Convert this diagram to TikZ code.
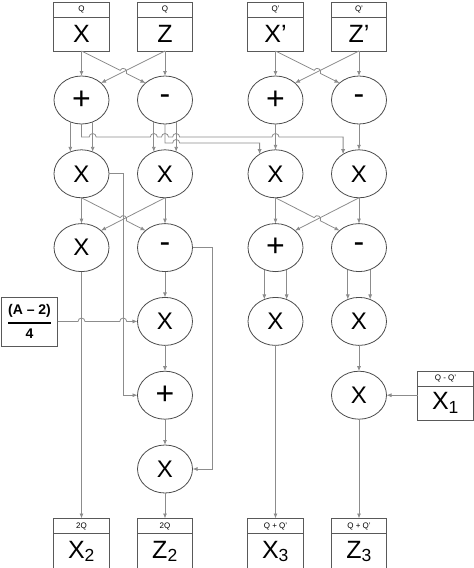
\documentclass[tikz,border=0pt]{standalone}
\usepackage{fontspec}
\setmainfont{Liberation Sans}
\usetikzlibrary{shapes.geometric,positioning,calc,arrows.meta}

\newcommand{\hop}[1]{-- ($(#1)+(-3.5pt,0)$) arc[start angle=180, end angle=0, radius=3.5pt]}
\newcommand{\dhop}[3]{-- ($(#1)!3.5pt!(#2)$) to[bend left=90, looseness=1.7] ($(#1)!3.5pt!(#3)$)}

\tikzset{
  tag/.style={draw=black!65, line width=0.8pt, minimum width=55.5pt, minimum height=15pt, inner sep=0pt, outer sep=0pt, font=\fontsize{8}{8}\selectfont},
  reg/.style={draw=black!65, line width=0.8pt, minimum width=55.5pt, minimum height=34pt, inner sep=0pt, outer sep=0pt, font=\fontsize{25}{25}\selectfont},
  op/.style={ellipse, draw=black!70, line width=0.8pt, minimum width=55pt, minimum height=48pt, inner sep=0pt, outer sep=0pt, font=\fontsize{24}{24}\selectfont},
  sign/.style={font=\fontsize{32}{32}\selectfont},
  wire/.style={draw=black!45, line width=0.8pt, >={Latex[length=5pt,width=4pt]}},
}

\begin{document}
\begin{tikzpicture}[x=1pt,y=1pt]
\useasboundingbox (0,0) rectangle (474,-568);

\node[tag] (tX) at (81.5,-9.5) {Q};
\node[reg, below=0pt of tX] (X) {X};
\node[tag] (tZ) at (165,-9.5) {Q};
\node[reg, below=0pt of tZ] (Z) {Z};
\node[tag] (tXp) at (275.5,-9.5) {Q'};
\node[reg, below=0pt of tXp] (Xp) {X’};
\node[tag] (tZp) at (359,-9.5) {Q'};
\node[reg, below=0pt of tZp] (Zp) {Z’};

\node[op, sign] (pl1) at (81.5,-100) {+};
\node[op, sign] (mi1) at (165,-100) {-};
\node[op, sign] (pl2) at (275.5,-100) {+};
\node[op, sign] (mi2) at (359,-100) {-};

\node[op] (mA) at (81.5,-173.8) {X};
\node[op] (mB) at (165,-173.8) {X};
\node[op] (mC) at (275.5,-173.8) {X};
\node[op] (mD) at (359,-173.8) {X};

\node[op] (mE) at (81.5,-247.6) {X};
\node[op, sign] (su1) at (165,-247.6) {-};
\node[op, sign] (ad3) at (275.5,-247.6) {+};
\node[op, sign] (su3) at (359,-247.6) {-};

\node[draw=black!65, line width=0.8pt, minimum width=56pt, minimum height=49pt, inner sep=0pt] (a24) at (29.5,-321.5)
  {\bfseries\fontsize{14}{16}\selectfont$\displaystyle{\mbox{(A -- 2)}\above 1.6pt \mbox{4}}$};
\node[op] (mF) at (165,-321.4) {X};
\node[op] (sqC) at (275.5,-321.4) {X};
\node[op] (sqD) at (359,-321.4) {X};

\node[op, sign] (ad2) at (165,-395.2) {+};
\node[op] (mG) at (359,-395.2) {X};
\node[tag] (tX1) at (445.5,-378.5) {Q - Q'};
\node[reg, below=0pt of tX1] (X1) {X\textsubscript{1}};

\node[op] (mH) at (165,-469) {X};

\node[tag] (tX2) at (81.5,-526) {2Q};
\node[reg, minimum height=36pt, below=0pt of tX2] (X2) {X\textsubscript{2}};
\node[tag] (tZ2) at (165,-526) {2Q};
\node[reg, minimum height=36pt, below=0pt of tZ2] (Z2) {Z\textsubscript{2}};
\node[tag] (tX3) at (275.5,-526) {Q + Q'};
\node[reg, minimum height=36pt, below=0pt of tX3] (X3) {X\textsubscript{3}};
\node[tag] (tZ3) at (359,-526) {Q + Q'};
\node[reg, minimum height=36pt, below=0pt of tZ3] (Z3) {Z\textsubscript{3}};

\coordinate (k0) at (intersection of X.south--mi1.north west and Z.south--pl1.north east);
\coordinate (k1) at (intersection of Xp.south--mi2.north west and Zp.south--pl2.north east);
\coordinate (k2) at (intersection of mA.south--su1.north west and mB.south--mE.north east);
\coordinate (k3) at (intersection of mC.south--su3.north west and mD.south--ad3.north east);
\coordinate (hA) at (0,-137);
\coordinate (hB) at (0,-143);

\draw[wire, ->] (X) -- (pl1);
\draw[wire, ->] (Z) -- (mi1);
\draw[wire, ->] (X.south) \dhop{k0}{X.south}{mi1.north west} -- (mi1.north west);
\draw[wire, ->] (Z.south) -- (pl1.north east);
\draw[wire, ->] (Xp) -- (pl2);
\draw[wire, ->] (Zp) -- (mi2);
\draw[wire, ->] (Xp.south) \dhop{k1}{Xp.south}{mi2.north west} -- (mi2.north west);
\draw[wire, ->] (Zp.south) -- (pl2.north east);

\draw[wire, ->] (pl1.-117) -- (mA.117);
\draw[wire, ->] (pl1.-63) -- (mA.63);
\draw[wire, ->] (mi1.-117) -- (mB.117);
\draw[wire, ->] (mi1.-63) -- (mB.63);
\draw[wire, ->] (pl2) -- (mC);
\draw[wire, ->] (mi2) -- (mD);
\draw[wire, ->] (pl1.south) -- (pl1.south |- hA) \hop{pl1.-63 |- hA} \hop{mi1.-117 |- hA} \hop{mi1.south |- hA} \hop{mi1.-63 |- hA} \hop{pl2.south |- hA} -- (mD.129 |- hA) -- (mD.129);
\draw[wire, ->] (mi1.south) -- (mi1.south |- hB) \hop{mi1.-63 |- hB} -- (mC.129 |- hB) -- (mC.129);

\draw[wire, ->] (mA) -- (mE);
\draw[wire, ->] (mB) -- (su1);
\draw[wire, ->] (mA.south) \dhop{k2}{mA.south}{su1.north west} -- (su1.north west);
\draw[wire, ->] (mB.south) -- (mE.north east);
\draw[wire, ->] (mC) -- (ad3);
\draw[wire, ->] (mD) -- (su3);
\draw[wire, ->] (mC.south) \dhop{k3}{mC.south}{su3.north west} -- (su3.north west);
\draw[wire, ->] (mD.south) -- (ad3.north east);

\draw[wire, ->] (mA.east) -| (k2) |- (ad2.west);
\draw[wire, ->] (su1.east) -- ++(20,0) |- (mH.east);
\draw[wire, ->] (su1) -- (mF);
\draw[wire, ->] (a24.east) \hop{mE.south |- a24.east} \hop{k2 |- a24.east} -- (mF.west);
\draw[wire, ->] (mF) -- (ad2);
\draw[wire, ->] (ad2) -- (mH);
\draw[wire, ->] (mE) -- (tX2);
\draw[wire, ->] (mH) -- (tZ2);

\draw[wire, ->] (ad3.-117) -- (sqC.117);
\draw[wire, ->] (ad3.-63) -- (sqC.63);
\draw[wire, ->] (su3.-117) -- (sqD.117);
\draw[wire, ->] (su3.-63) -- (sqD.63);
\draw[wire, ->] (sqC) -- (tX3);
\draw[wire, ->] (sqD) -- (mG);
\draw[wire, ->] (mG.east -| X1.west) -- (mG.east);
\draw[wire, ->] (mG) -- (tZ3);
\end{tikzpicture}
\end{document}
